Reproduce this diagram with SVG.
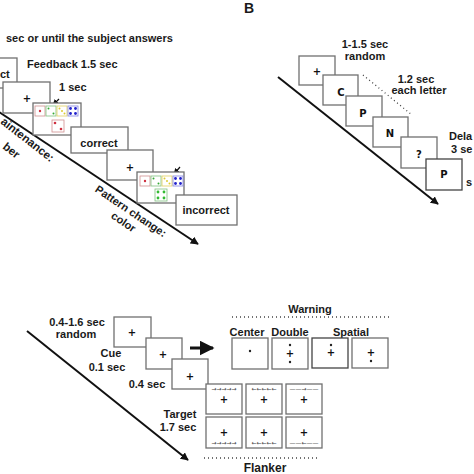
<svg xmlns="http://www.w3.org/2000/svg" width="474" height="474" viewBox="0 0 474 474">
<defs>
<style>
.t{font-family:"Liberation Sans",Arial,sans-serif;font-weight:bold;font-size:11px;fill:#1a1a1a}
.c{text-anchor:middle}
.p{font-family:"DejaVu Sans",sans-serif;font-weight:bold;font-size:10px;fill:#111;text-anchor:middle}
.f{font-family:"DejaVu Sans",sans-serif;font-size:6px;fill:#444;text-anchor:middle}
.box{fill:#fff;stroke:#707070;stroke-width:1.3}
.ln{stroke:#111;stroke-width:2;fill:none;marker-end:url(#ah)}
.dt{stroke:#444;stroke-width:1.3;stroke-dasharray:1 3;fill:none}
.sq{fill:#fff;stroke-width:0.8}
</style>
<marker id="ah" viewBox="0 0 10 10" refX="9" refY="5" markerWidth="4" markerHeight="4" orient="auto" markerUnits="strokeWidth"><path d="M0,0L10,5L0,10z" fill="#111"/></marker>
<marker id="sa" viewBox="0 0 10 10" refX="9" refY="5" markerWidth="5" markerHeight="5" orient="auto" markerUnits="strokeWidth"><path d="M0,0L10,5L0,10z" fill="#111"/></marker>
</defs>
<rect width="474" height="474" fill="#fff"/>

<g id="connectors">
<line class="ln" x1="-10" y1="106" x2="198" y2="244"/>
<line class="ln" x1="278" y1="77" x2="438" y2="204"/>
<line class="ln" x1="27" y1="331" x2="188" y2="460"/>
<line x1="190" y1="348" x2="213" y2="348" stroke="#111" stroke-width="3" marker-end="url(#sa)"/>
<line class="dt" x1="363" y1="75" x2="412" y2="115"/>
<line x1="59" y1="99" x2="53" y2="105" stroke="#111" stroke-width="1.2" marker-end="url(#sa)"/>
<line x1="180" y1="167" x2="174" y2="174" stroke="#111" stroke-width="1.2" marker-end="url(#sa)"/>
</g>

<g id="panelA">
<text class="t" x="6" y="42">sec or until the subject answers</text>
<text class="t" x="27" y="68">Feedback 1.5 sec</text>
<text class="t" x="59" y="91">1 sec</text>
<g id="a-correct0"><rect class="box" x="-40" y="58" width="57" height="30"/><text class="t" x="0" y="78">ct</text></g>
<g id="a-fix1"><rect class="box" x="3" y="82" width="47" height="31"/><text class="p" x="27" y="102">+</text></g>
<g id="a-stim1"><rect class="box" x="33" y="103" width="48" height="32"/>
<rect class="sq" x="35" y="106" width="10" height="10" stroke="#d09090"/><circle cx="40" cy="111" r="1.2" fill="#d03040"/>
<rect class="sq" x="46" y="106" width="10" height="10" stroke="#80c080"/><circle cx="48.5" cy="108.5" r="1" fill="#3a3"/><circle cx="53.5" cy="113.5" r="1" fill="#3a3"/>
<rect class="sq" x="57" y="106" width="10" height="10" stroke="#e0d060"/><circle cx="59.5" cy="108.5" r="1" fill="#dc3"/><circle cx="62" cy="111" r="1" fill="#dc3"/><circle cx="64.5" cy="113.5" r="1" fill="#dc3"/>
<rect class="sq" x="68" y="106" width="10" height="10" stroke="#8080e0"/><circle cx="70.5" cy="108.5" r="1.4" fill="#22c"/><circle cx="75.5" cy="108.5" r="1.4" fill="#22c"/><circle cx="70.5" cy="113.5" r="1.4" fill="#22c"/><circle cx="75.5" cy="113.5" r="1.4" fill="#22c"/>
<rect class="sq" x="52" y="120" width="12" height="12" stroke="#d09090"/><circle cx="55" cy="123" r="1.3" fill="#d03040"/><circle cx="61" cy="129" r="1.3" fill="#d03040"/>
</g>
<g id="a-correct"><rect class="box" x="71" y="127" width="57" height="26"/><text class="t c" x="99" y="147">correct</text></g>
<g id="a-fix2"><rect class="box" x="107" y="150" width="46" height="30"/><text class="p" x="130" y="171">+</text></g>
<g id="a-stim2"><rect class="box" x="137" y="172" width="47" height="31"/>
<rect class="sq" x="140" y="176" width="10" height="10" stroke="#d09090"/><circle cx="145" cy="181" r="1.2" fill="#d03040"/>
<rect class="sq" x="151" y="176" width="10" height="10" stroke="#80c080"/><circle cx="153.5" cy="178.5" r="1" fill="#3a3"/><circle cx="158.5" cy="183.5" r="1" fill="#3a3"/>
<rect class="sq" x="162" y="176" width="10" height="10" stroke="#e0d060"/><circle cx="164.5" cy="178.5" r="1" fill="#dc3"/><circle cx="167" cy="181" r="1" fill="#dc3"/><circle cx="169.5" cy="183.5" r="1" fill="#dc3"/>
<rect class="sq" x="173" y="176" width="10" height="10" stroke="#8080e0"/><circle cx="175.5" cy="178.5" r="1.4" fill="#22c"/><circle cx="180.5" cy="178.5" r="1.4" fill="#22c"/><circle cx="175.5" cy="183.5" r="1.4" fill="#22c"/><circle cx="180.5" cy="183.5" r="1.4" fill="#22c"/>
<rect class="sq" x="155" y="189" width="12" height="12" stroke="#80c080"/><circle cx="158" cy="192" r="1.4" fill="#3b3"/><circle cx="164" cy="192" r="1.4" fill="#3b3"/><circle cx="158" cy="198" r="1.4" fill="#3b3"/><circle cx="164" cy="198" r="1.4" fill="#3b3"/>
</g>
<g id="a-incorrect"><rect class="box" x="176" y="195" width="61" height="30"/><text class="t c" x="206" y="214">incorrect</text></g>
<text class="t" transform="translate(0,123) rotate(38)" style="font-size:11.5px">aintenance:</text>
<text class="t" transform="translate(2,148) rotate(38)" style="font-size:11.5px">ber</text>
<g transform="translate(131,211) rotate(34)"><text class="t c" x="0" y="4">Pattern change:</text><text class="t c" x="0" y="17">color</text></g>
</g>

<g id="panelB">
<text class="t" x="244" y="13" style="font-size:14px">B</text>
<text class="t c" x="365" y="48">1-1.5 sec</text>
<text class="t c" x="365" y="60">random</text>
<text class="t c" x="416" y="83">1.2 sec</text>
<text class="t c" x="419" y="94">each letter</text>
<text class="t" x="449" y="140">Dela</text>
<text class="t" x="451" y="153">3 se</text>
<text class="t" x="466" y="186">s</text>
<g id="b-fix"><rect class="box" x="299" y="56" width="36" height="29"/><text class="p" x="317" y="75">+</text></g>
<g id="b-C"><rect class="box" x="323" y="75" width="35" height="30"/><text class="p" x="341" y="96">C</text></g>
<g id="b-P"><rect class="box" x="346" y="96" width="36" height="30"/><text class="p" x="363" y="117">P</text></g>
<g id="b-N"><rect class="box" x="373" y="117" width="35" height="30"/><text class="p" x="390" y="137">N</text></g>
<g id="b-q"><rect class="box" x="401" y="137" width="36" height="31"/><text class="p" x="419" y="158">?</text></g>
<g id="b-P2"><rect class="box" x="426" y="159" width="36" height="31" style="stroke:#444"/><text class="p" x="444" y="178">P</text></g>
</g>

<g id="panelC">
<text class="t c" x="77" y="326">0.4-1.6 sec</text>
<text class="t c" x="76" y="338">random</text>
<text class="t c" x="111" y="357">Cue</text>
<text class="t c" x="107" y="371">0.1 sec</text>
<text class="t c" x="147" y="388">0.4 sec</text>
<text class="t c" x="180" y="418">Target</text>
<text class="t c" x="178" y="431">1.7 sec</text>
<g id="c-fix1"><rect class="box" x="114" y="317" width="37" height="30"/><text class="p" x="132" y="336">+</text></g>
<g id="c-cue"><rect class="box" x="146" y="338" width="36" height="31"/><text class="p" x="163" y="358">+</text></g>
<g id="c-fix2"><rect class="box" x="172" y="359" width="36" height="30"/><text class="p" x="190" y="380">+</text></g>

<text class="t c" x="310" y="313">Warning</text>
<line class="dt" x1="232" y1="317" x2="390" y2="317"/>
<text class="t c" x="247" y="336">Center</text>
<text class="t c" x="290" y="336">Double</text>
<text class="t c" x="351" y="336">Spatial</text>
<g id="w-center"><rect class="box" x="232" y="338" width="36" height="31"/><circle cx="250" cy="351" r="1.2" fill="#222"/></g>
<g id="w-double"><rect class="box" x="272" y="338" width="36" height="31"/><circle cx="290" cy="345" r="1.2" fill="#222"/><text class="p" x="290" y="357">+</text><circle cx="290" cy="362" r="1.2" fill="#222"/></g>
<g id="w-spatial1"><rect class="box" x="312" y="338" width="36" height="30" style="stroke:#444"/><circle cx="331" cy="345" r="1.2" fill="#222"/><text class="p" x="331" y="356">+</text></g>
<g id="w-spatial2"><rect class="box" x="352" y="338" width="36" height="30"/><text class="p" x="371" y="356">+</text><circle cx="371" cy="361" r="1.2" fill="#222"/></g>

<g id="f-1"><rect class="box" x="206" y="384" width="36" height="30"/><text class="f" x="224" y="391">→→→→→</text><text class="p" x="224" y="403">+</text></g>
<g id="f-2"><rect class="box" x="246" y="384" width="36" height="30"/><text class="f" x="264" y="391">←←←←←</text><text class="p" x="264" y="403">+</text></g>
<g id="f-3"><rect class="box" x="286" y="384" width="36" height="30"/><text class="f" x="304" y="391">——→——</text><text class="p" x="304" y="403">+</text></g>
<g id="f-4"><rect class="box" x="206" y="417" width="36" height="31"/><text class="p" x="224" y="436">+</text><text class="f" x="224" y="445">→→→→→</text></g>
<g id="f-5"><rect class="box" x="246" y="417" width="36" height="31"/><text class="p" x="264" y="436">+</text><text class="f" x="264" y="445">←←←←←</text></g>
<g id="f-6"><rect class="box" x="286" y="417" width="36" height="31"/><text class="p" x="304" y="436">+</text><text class="f" x="304" y="445">——←——</text></g>
<line class="dt" x1="204" y1="458" x2="320" y2="458"/>
<text class="t c" x="265" y="472" style="font-size:12px">Flanker</text>
</g>
</svg>
